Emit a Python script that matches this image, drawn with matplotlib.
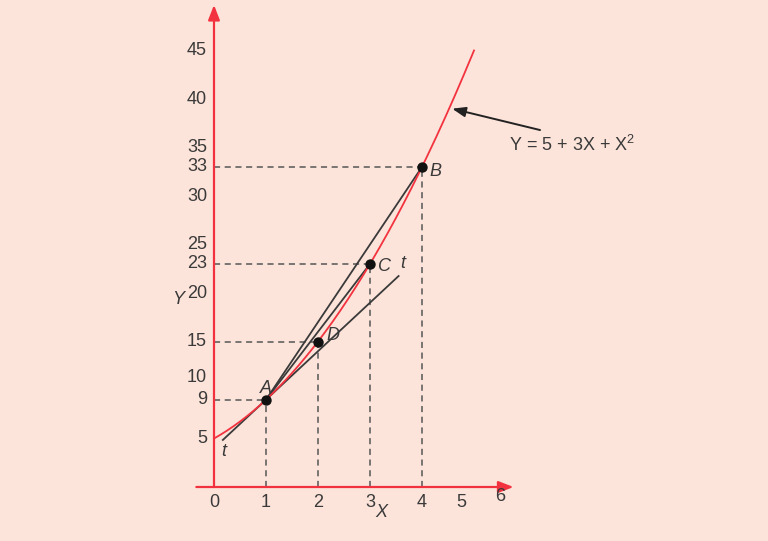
import numpy as np
import matplotlib
matplotlib.use("Agg")
import matplotlib.pyplot as plt

plt.rcParams['font.family'] = ['Liberation Sans', 'DejaVu Sans']
plt.rcParams['mathtext.default'] = 'regular'

# points on the curve Y = 5 + 3X + X^2
pt_names = ['A', 'D', 'C', 'B']
pt_x = [1, 2, 3, 4]
pt_y = [9, 15, 23, 33]

y_ticks = [5, 9, 10, 15, 20, 23, 25, 30, 33, 35, 40, 45]
x_ticks = ['0', '1', '2', '3', '4', '5', '6']
x_tick_at = [0, 1, 2, 3, 4, 4.75, 5.5]

bg = '#fde4da'
red = '#f2333f'
ink = '#3a3a3a'
fs = 13

fig = plt.figure(figsize=(7.68, 5.41), dpi=100, facecolor=bg)
ax = fig.add_axes([0, 0, 1, 1])
ax.set_facecolor(bg)
ax.set_xlim(-214 / 52, (768 - 214) / 52)
ax.set_ylim((487 - 541) / 9.7, 487 / 9.7)
ax.axis('off')

# axes with arrow heads
ax.annotate('', xy=(5.76, 0), xytext=(-0.34, 0),
            arrowprops=dict(arrowstyle='-|>,head_length=0.9,head_width=0.35',
                            color=red, lw=1.6, shrinkA=0, shrinkB=0))
ax.annotate('', xy=(0, 49.7), xytext=(0, 0),
            arrowprops=dict(arrowstyle='-|>,head_length=0.9,head_width=0.35',
                            color=red, lw=1.6, shrinkA=0, shrinkB=0))

# curve
xs = np.linspace(0, 5, 200)
ax.plot(xs, 5 + 3 * xs + xs ** 2, color=red, lw=1.3, zorder=3)

# tangent at A, slope 5
tx = np.array([0.17, 3.55])
ax.plot(tx, 9 + 5 * (tx - 1), color=ink, lw=1.3, zorder=2)
ax.text(tx[1] + 0.04, 9 + 5 * (tx[1] - 1) + 0.4, 't', style='italic',
        fontsize=fs, color=ink, ha='left', va='bottom')
ax.text(tx[0] - 0.04, 9 + 5 * (tx[0] - 1) - 0.3, 't', style='italic',
        fontsize=fs, color=ink, ha='left', va='top')

# chords A-C and A-B
for i in [2, 3]:
    ax.plot([pt_x[0], pt_x[i]], [pt_y[0], pt_y[i]], color=ink, lw=1.3, zorder=2)

# dashed guides
for x, y in zip(pt_x, pt_y):
    ax.plot([0, x], [y, y], color='#555555', lw=1.1, ls=(0, (4, 3)), zorder=1)
    ax.plot([x, x], [0, y], color='#555555', lw=1.1, ls=(0, (4, 3)), zorder=1)

ax.scatter(pt_x, pt_y, s=42, color='#111111', zorder=5)

label_off = {'A': (0, 8), 'D': (6, 4), 'C': (6, -2), 'B': (5, -3)}
for n, x, y in zip(pt_names, pt_x, pt_y):
    ax.annotate(n, (x, y), xytext=label_off[n], textcoords='offset points',
                style='italic', fontsize=fs, color=ink,
                ha='left' if n != 'A' else 'center', va='center')

# tick labels
y_shift = {10: 9}
for v in y_ticks:
    ax.annotate(str(v), (0, v), xytext=(-5, y_shift.get(v, 0)),
                textcoords='offset points', ha='right', va='center',
                fontsize=fs, color=ink)
for lab, v in zip(x_ticks, x_tick_at):
    ax.annotate(lab, (v, 0), xytext=(0, -5 if lab != '6' else -1),
                textcoords='offset points', ha='center', va='top',
                fontsize=fs, color=ink)

ax.text(-0.69, 19.3, 'Y', style='italic', fontsize=fs, color=ink,
        ha='center', va='center')
ax.text(3.21, -2.6, 'X', style='italic', fontsize=fs, color=ink,
        ha='center', va='center')

# equation label and its arrow
ax.text(5.68, 35.3, 'Y = 5 + 3X + X$^2$', fontsize=fs, color=ink,
        ha='left', va='center')
ax.annotate('', xy=(4.58, 39.0), xytext=(6.27, 36.8),
            arrowprops=dict(arrowstyle='-|>,head_length=0.8,head_width=0.3',
                            color='#222222', lw=1.4, shrinkA=0, shrinkB=0))

fig.savefig('out.png', dpi=100, facecolor=bg)
